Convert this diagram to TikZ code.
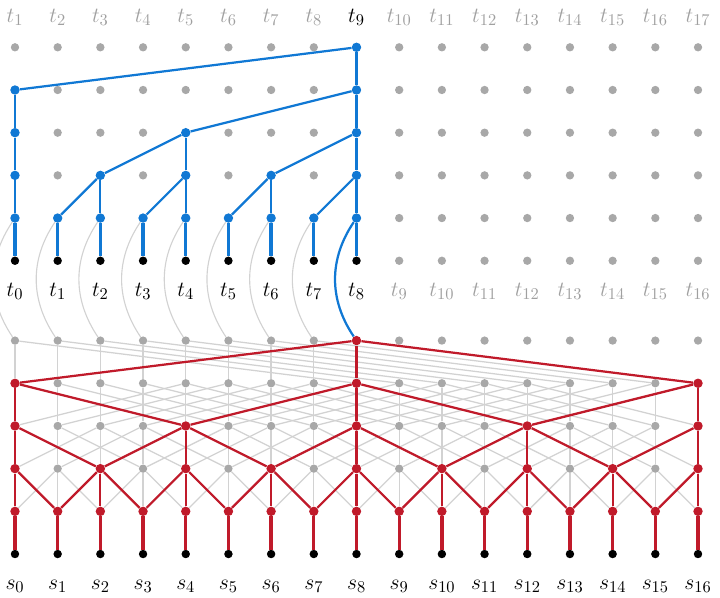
\documentclass[tikz,border=0pt]{standalone}
\usepackage{amsmath}
\usepackage{amssymb}
\usepackage{color}
\definecolor{treeblue}{RGB}{16,120,212}
\definecolor{treered}{RGB}{192,26,42}
\definecolor{dotgray}{RGB}{168,168,168}
\definecolor{linegray}{RGB}{210,210,210}
\definecolor{labelgray}{RGB}{160,160,160}

\begin{document}
\begin{tikzpicture}[
        dot/.style={circle,fill=dotgray,inner sep=0pt,minimum size=1.95mm},
        leaf/.style={dot,fill=black},
        bdot/.style={dot,fill=treeblue,minimum size=2.2mm},
        rdot/.style={dot,fill=treered,minimum size=2.2mm},
        gline/.style={linegray,line width=0.85pt},
        garc/.style={linegray,line width=0.75pt},
        bline/.style={treeblue,line width=1.5pt},
        rline/.style={treered,line width=1.5pt},
        lbl/.style={anchor=base,font=\fontsize{15.5}{18}\selectfont}
    ]
    \useasboundingbox (-0.351,-1.007) rectangle (16.515,12.978);
    % both grids of dots, t on top and s below
    \foreach \k in {0,...,5}
        \foreach \j in {0,...,16}{
            \node[dot] (t-\k-\j) at (\j,6.87+\k) {};
            \node[dot] (s-\k-\j) at (\j,\k) {};
        }
    % leaves
    \foreach \j in {0,...,8} \node[leaf] (t-0-\j) at (\j,6.87) {};
    \foreach \j in {0,...,16} \node[leaf] (s-0-\j) at (\j,0) {};
    % blue and red nodes
    \foreach \k/\d in {1/1,2/2,3/4,4/8}{
        \foreach \j in {0,\d,...,8} \node[bdot] (t-\k-\j) at (\j,6.87+\k) {};
        \foreach \j in {0,\d,...,16} \node[rdot] (s-\k-\j) at (\j,\k) {};
    }
    \node[bdot] (t-5-8) at (8,11.87) {};
    \node[rdot] (s-5-8) at (8,5) {};

    % gray edges of the s grid
    \foreach \k/\d in {2/1,3/2,4/4}
        \foreach \j in {0,...,16}{
            \pgfmathtruncatemacro\km{\k-1}
            \pgfmathtruncatemacro\jl{\j-\d}
            \pgfmathtruncatemacro\jr{\j+\d}
            \draw[gline] (s-\k-\j) -- (s-\km-\j);
            \ifnum\jl>-1 \draw[gline] (s-\k-\j) -- (s-\km-\jl); \fi
            \ifnum\jr<17 \draw[gline] (s-\k-\j) -- (s-\km-\jr); \fi
        }
    \foreach \j in {0,...,7}{
        \pgfmathtruncatemacro\jr{\j+8}
        \draw[gline] (s-5-\j) -- (s-4-\j);
        \draw[gline] (s-5-\j) -- (s-4-\jr);
    }
    % gray arcs from t to s
    \foreach \j in {0,...,7} \draw[garc] (t-1-\j) to[out=236,in=124] (s-5-\j);

    % red tree
    \foreach \j in {0,...,16} \draw[rline,line width=2.2pt] (s-1-\j) -- (s-0-\j);
    \foreach \k/\d in {2/1,3/2,4/4}{
        \pgfmathtruncatemacro\km{\k-1}
        \pgfmathtruncatemacro\dd{2*\d}
        \foreach \j in {0,\dd,...,16}{
            \pgfmathtruncatemacro\jl{\j-\d}
            \pgfmathtruncatemacro\jr{\j+\d}
            \draw[rline] (s-\k-\j) -- (s-\km-\j);
            \ifnum\jl>-1 \draw[rline] (s-\k-\j) -- (s-\km-\jl); \fi
            \ifnum\jr<17 \draw[rline] (s-\k-\j) -- (s-\km-\jr); \fi
        }
    }
    \foreach \j in {0,8,16} \draw[rline] (s-5-8) -- (s-4-\j);

    % blue tree
    \foreach \j in {0,...,8} \draw[bline,line width=2.2pt] (t-1-\j) -- (t-0-\j);
    \foreach \k/\d in {2/1,3/2,4/4}{
        \pgfmathtruncatemacro\km{\k-1}
        \pgfmathtruncatemacro\dd{2*\d}
        \foreach \j in {0,\dd,...,8}{
            \pgfmathtruncatemacro\jl{\j-\d}
            \draw[bline] (t-\k-\j) -- (t-\km-\j);
            \ifnum\jl>-1 \draw[bline] (t-\k-\j) -- (t-\km-\jl); \fi
        }
    }
    \draw[bline] (t-5-8) -- (t-4-8);
    \draw[bline] (t-5-8) -- (t-4-0);
    \draw[bline] (t-1-8) to[out=236,in=124] (s-5-8);

    % labels
    \foreach \j in {0,...,16}{
        \pgfmathtruncatemacro\nn{\j+1}
        \ifnum\j=8 \def\tc{black}\else\def\tc{labelgray}\fi
        \ifnum\j<9 \def\mc{black}\else\def\mc{labelgray}\fi
        \node[lbl,text=\tc] (top-\j) at (\j,12.45) {$t_{\nn}$};
        \node[lbl,text=\mc] (mid-\j) at (\j,6.03) {$t_{\j}$};
        \node[lbl] (bot-\j) at (\j,-0.83) {$s_{\j}$};
    }
\end{tikzpicture}
\end{document}
